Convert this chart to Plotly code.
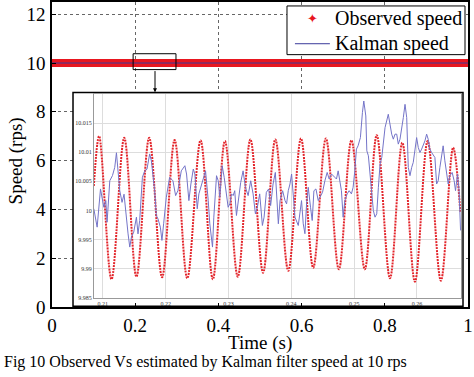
import plotly.graph_objects as go

# ---------------- data ----------------
main_t = [0.0, 1.0]
observed_main = [10.0, 10.0]
kalman_main = [10.0, 10.0]

x_ticks = [0, 0.2, 0.4, 0.6, 0.8, 1.0]
x_ticktext = ["0", "0.2", "0.4", "0.6", "0.8", "1"]
y_ticks = [0, 2, 4, 6, 8, 10, 12]
y_ticktext = ["0", "2", "4", "6", "8", "10", "12"]

series_names = ["Observed speed", "Kalman speed"]

# zoomed window: observed speed (peaks / troughs)
obs_t = [0.20857, 0.20941, 0.21138, 0.21341, 0.21535, 0.21738, 0.21944, 0.22143,
         0.22344, 0.22556, 0.22751, 0.22944, 0.23148, 0.23349, 0.23551, 0.23746,
         0.23952, 0.24154, 0.24349, 0.24551, 0.24757, 0.24957, 0.25170, 0.25360,
         0.25571, 0.25767, 0.25968, 0.26170, 0.26381, 0.26576, 0.26690]
obs_v = [10.0042, 10.01275, 9.98822, 10.01246, 9.98866, 10.01246, 9.98856, 10.01207,
         9.98839, 10.01202, 9.98822, 10.0119, 9.98866, 10.01219, 9.98934, 10.01219,
         9.98968, 10.01236, 9.99019, 10.01236, 9.98992, 10.01202, 9.98992, 10.01292,
         9.98839, 10.01161, 9.98781, 10.0119, 9.98798, 10.01076, 9.9998]

# zoomed window: Kalman speed
kal_t = [0.20857, 0.20910, 0.20963, 0.21016, 0.21048, 0.21068, 0.21111, 0.21154, 0.21190, 0.21217,
         0.21270, 0.21306, 0.21338, 0.21365, 0.21402, 0.21429, 0.21456, 0.21492, 0.21535, 0.21560,
         0.21587, 0.21630, 0.21667, 0.21703, 0.21746, 0.21773, 0.21825, 0.21852, 0.21878, 0.21916,
         0.21941, 0.21968, 0.22011, 0.22063, 0.22116, 0.22159, 0.22195, 0.22249, 0.22306, 0.22333,
         0.22370, 0.22402, 0.22440, 0.22465, 0.22503, 0.22529, 0.22571, 0.22598, 0.22635, 0.22678,
         0.22703, 0.22746, 0.22767, 0.22810, 0.22837, 0.22862, 0.22900, 0.22932, 0.22968, 0.22995,
         0.23021, 0.23048, 0.23075, 0.23100, 0.23127, 0.23154, 0.23195, 0.23233, 0.23270, 0.23313,
         0.23354, 0.23392, 0.23429, 0.23460, 0.23497, 0.23540, 0.23567, 0.23603, 0.23640, 0.23671,
         0.23710, 0.23746, 0.23767, 0.23794, 0.23821, 0.23862, 0.23900, 0.23925, 0.23952, 0.23979,
         0.24005, 0.24032, 0.24059, 0.24111, 0.24138, 0.24163, 0.24190, 0.24217, 0.24243, 0.24270,
         0.24306, 0.24333, 0.24360, 0.24392, 0.24429, 0.24497, 0.24535, 0.24571, 0.24603, 0.24640,
         0.24694, 0.24719, 0.24746, 0.24773, 0.24798, 0.24825, 0.24852, 0.24889, 0.24921, 0.24957,
         0.24984, 0.25011, 0.25037, 0.25063, 0.25100, 0.25132, 0.25154, 0.25186, 0.25202, 0.25227,
         0.25254, 0.25281, 0.25306, 0.25333, 0.25360, 0.25386, 0.25413, 0.25440, 0.25465, 0.25492,
         0.25544, 0.25571, 0.25598, 0.25624, 0.25651, 0.25678, 0.25703, 0.25730, 0.25757, 0.25783,
         0.25810, 0.25837, 0.25862, 0.25889, 0.25916, 0.25941, 0.25995, 0.26021, 0.26048, 0.26075,
         0.26127, 0.26154, 0.26179, 0.26206, 0.26233, 0.26286, 0.26313, 0.26338, 0.26365, 0.26417,
         0.26444, 0.26471, 0.26497, 0.26524, 0.26560, 0.26592, 0.26614, 0.26646, 0.26671, 0.26694]
kal_v = [10.0003, 9.99715, 10.0037, 10.00056, 10.0017, 9.9980, 10.0051, 10.0060, 10.0074, 10.0099,
         10.0034, 10.0014, 10.0028, 9.9994, 9.9960, 9.99374, 9.99545, 9.9963, 9.99886, 9.9960,
         9.9983, 10.0057, 10.0068, 10.0071, 10.0097, 10.0085, 10.0034, 9.99915, 9.99858, 9.99715,
         9.99488, 9.99773, 10.00227, 10.00568, 10.0051, 10.00256, 10.0034, 10.0068, 10.00768, 10.00626,
         10.0017, 10.00455, 10.00711, 10.00626, 10.0003, 10.00285, 10.00455, 10.00568, 10.0068, 10.0017,
         9.99773, 9.99374, 9.99886, 10.00597, 10.0051, 10.00227, 10.00768, 10.00568, 10.00285, 10.00056,
         10.00114, 10.00285, 10.00256, 10.0034, 9.99915, 10.0017, 10.00483, 10.0068, 10.00398, 10.00256,
         10.0051, 10.00285, 9.99944, 10.00056, 10.00285, 9.99744, 9.99886, 10.00312, 10.0037, 10.00085,
         10.00455, 10.00653, 10.00227, 9.99773, 10.0017, 10.0034, 10.0017, 10.00114, 10.0034, 10.00455,
         10.00626, 10.0017, 9.99886, 9.99744, 10.0, 10.0017, 9.99773, 9.99603, 10.00114, 10.00398,
         10.00056, 9.99829, 10.0034, 10.0037, 10.0017, 10.00312, 10.0051, 10.00653, 10.0054, 10.00626,
         10.00568, 10.0054, 10.0068, 10.00455, 10.0034, 9.99886, 10.0017, 10.00285, 10.0034, 10.00285,
         10.00398, 10.0068, 10.01053, 10.01109, 10.0125, 10.01677, 10.01877, 10.01621, 10.01024, 10.00938,
         10.00568, 10.00285, 10.0, 9.99886, 9.99944, 10.00398, 10.00797, 10.00909, 10.01194, 10.01421,
         10.0165, 10.01479, 10.01309, 10.01223, 10.01309, 10.01309, 10.01138, 10.01223, 10.01394, 10.01592,
         10.0182, 10.01592, 10.00739, 10.00597, 10.00739, 10.00824, 10.0125, 10.0108, 10.00995, 10.01053,
         10.01194, 10.01309, 10.01223, 10.01053, 10.00995, 10.00909, 10.00455, 10.0051, 10.00739, 10.01109,
         10.00853, 10.00626, 10.00455, 10.00597, 10.00653, 10.0051, 10.0034, 10.00626, 10.0034, 9.99659]

in_x_ticks = [0.21, 0.22, 0.23, 0.24, 0.25, 0.26]
in_x_text = ["0.21", "0.22", "0.23", "0.24", "0.25", "0.26"]
in_y_ticks = [9.985, 9.99, 9.995, 10.0, 10.005, 10.01, 10.015]
in_y_text = ["9.985", "9.99", "9.995", "10", "10.005", "10.01", "10.015"]

SERIF = "Liberation Serif"
RED = "#e8161f"
BLUE = "#3a3a9a"

fig = go.Figure()

# main traces
fig.add_trace(go.Scatter(x=main_t, y=observed_main, mode="lines", name=series_names[0],
                         line=dict(color=RED, width=8), showlegend=False, hoverinfo="skip"))
fig.add_trace(go.Scatter(x=main_t, y=kalman_main, mode="lines", name=series_names[1],
                         line=dict(color=BLUE, width=1), showlegend=False))

# inset traces
fig.add_trace(go.Scatter(x=obs_t, y=obs_v, mode="lines", xaxis="x2", yaxis="y2",
                         line=dict(color="#e3262c", width=2, shape="spline", dash="2px,1px"),
                         showlegend=False))
fig.add_trace(go.Scatter(x=kal_t, y=kal_v, mode="lines", xaxis="x2", yaxis="y2",
                         line=dict(color="#7474c8", width=1), showlegend=False))

axis_common = dict(showline=True, linecolor="black", linewidth=1.5, mirror=True,
                   ticks="inside", ticklen=4, tickcolor="black", zeroline=False,
                   showgrid=True, gridcolor="#666666", griddash="dot", gridwidth=1,
                   tickfont=dict(family=SERIF, size=19, color="black"))

fig.update_layout(
    width=474, height=377,
    margin=dict(l=52, r=6, t=0, b=70),
    paper_bgcolor="white", plot_bgcolor="rgba(0,0,0,0)",
    xaxis=dict(range=[0, 1], tickvals=x_ticks, ticktext=x_ticktext, domain=[0, 1],
               **axis_common),
    yaxis=dict(range=[0, 12.5], tickvals=y_ticks, ticktext=y_ticktext,
               ticklabelstandoff=1, **axis_common),
    xaxis2=dict(domain=[0.101, 0.983], anchor="y2", range=[0.2086, 0.2670],
                tickvals=in_x_ticks, ticktext=in_x_text, showgrid=True, gridcolor="#dddddd",
                showline=True, linecolor="#999999", linewidth=1, mirror=True, zeroline=False,
                ticks="", tickfont=dict(family=SERIF, size=6, color="#333333")),
    yaxis2=dict(domain=[0.0293, 0.697], anchor="x2", range=[9.985, 10.0199],
                tickvals=in_y_ticks, ticktext=in_y_text, showgrid=True, gridcolor="#dddddd",
                showline=True, linecolor="#999999", linewidth=1, mirror=True, zeroline=False,
                ticks="", tickfont=dict(family=SERIF, size=6, color="#333333")),
    showlegend=False,
)

# inset frame (white background covering main grid)
fig.add_shape(type="rect", xref="x", yref="y", x0=0.0505, x1=0.988, y0=0.03, y1=8.79,
              fillcolor="white", line=dict(color="black", width=1.5), layer="between")
# zoom box on main line
fig.add_shape(type="rect", xref="x", yref="y", x0=0.195, x1=0.298, y0=9.73, y1=10.38,
              line=dict(color="black", width=1), layer="above")
fig.add_annotation(x=0.2476, y=8.8, ax=0.2476, ay=9.73, xref="x", yref="y",
                   axref="x", ayref="y", text="", showarrow=True, arrowhead=2,
                   arrowsize=0.8, arrowwidth=1, arrowcolor="black")

# legend box (drawn as shapes + text)
fig.add_shape(type="rect", xref="paper", yref="paper", x0=0.5649, x1=0.9928,
              y0=0.8274, y1=0.987, fillcolor="white", line=dict(color="black", width=1),
              layer="above")
fig.add_shape(type="line", xref="paper", yref="paper", x0=0.584, x1=0.668,
              y0=0.8632, y1=0.8632, line=dict(color=BLUE, width=1), layer="above")
fig.add_annotation(text="✦", xref="paper", yref="paper", x=0.6274, y=0.9446,
                   xanchor="center", yanchor="middle", showarrow=False,
                   font=dict(family="DejaVu Sans", size=13, color=RED))
fig.add_annotation(text=series_names[0], xref="paper", yref="paper", x=0.676, y=0.9446,
                   xanchor="left", yanchor="middle", showarrow=False,
                   font=dict(family=SERIF, size=20, color="black"))
fig.add_annotation(text=series_names[1], xref="paper", yref="paper", x=0.676, y=0.8632,
                   xanchor="left", yanchor="middle", showarrow=False,
                   font=dict(family=SERIF, size=20, color="black"))

fig.add_annotation(text="Speed (rps)", textangle=-90, xref="paper", yref="paper",
                   x=-0.087, y=0.48, xanchor="center", yanchor="middle", showarrow=False,
                   font=dict(family=SERIF, size=19, color="black"))
fig.add_annotation(text="Time (s)", xref="paper", yref="paper", x=0.5, y=-0.117,
                   xanchor="center", yanchor="middle", showarrow=False,
                   font=dict(family=SERIF, size=19, color="black"))
fig.add_annotation(text="Fig 10 Observed Vs estimated by Kalman filter speed at 10 rps",
                   xref="paper", yref="paper", x=-0.119, y=-0.18, xanchor="left",
                   yanchor="middle", showarrow=False,
                   font=dict(family=SERIF, size=16, color="black"))

fig.write_html("out.html", post_script="document.body.style.margin='0';",
               config={"displayModeBar": False})
